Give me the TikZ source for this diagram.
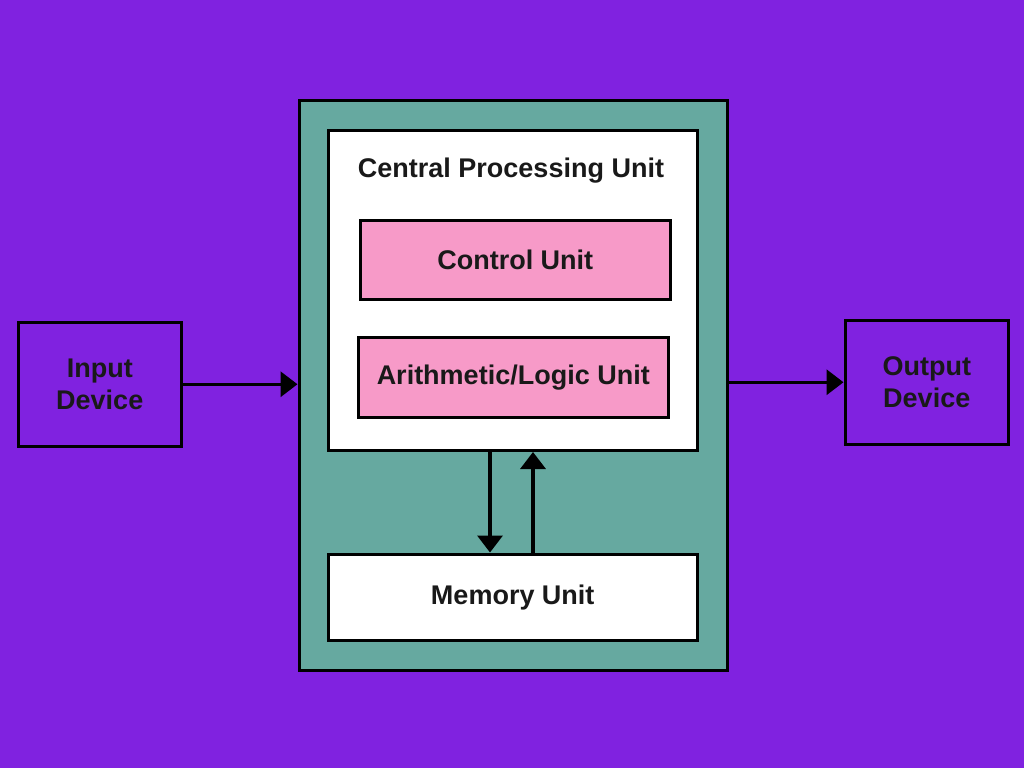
\documentclass[tikz,border=0pt]{standalone}
\usepackage{fontspec}
\setmainfont{Liberation Sans}
\usetikzlibrary{arrows.meta}
\definecolor{bgpurple}{RGB}{128,34,224}
\definecolor{tealc}{RGB}{102,169,160}
\definecolor{pinkc}{RGB}{247,154,200}
\definecolor{txt}{RGB}{25,25,25}
\tikzset{
  lbl/.style={font=\bfseries\fontsize{27}{32}\selectfont, text=txt},
  box/.style={draw=black, line width=3.5pt, inner sep=0pt, lbl, align=center},
  conn/.style={line width=3.5pt, -{Triangle[length=17pt,width=25pt]}}
}
\begin{document}
\begin{tikzpicture}[x=1pt,y=-1pt]
\fill[bgpurple] (0,0) rectangle (1024,768);
\useasboundingbox (0,0) rectangle (1024,768);
% outer teal
\node[box, fill=tealc, minimum width=428pt, minimum height=570pt, anchor=north west] (outer) at (297.5,98.5) {};
% cpu
\node[box, fill=white, minimum width=369pt, minimum height=320pt, anchor=north west] (cpu) at (326.5,128.5) {};
\node[lbl] (cputitle) at (511,171) {Central Processing Unit};
\node[box, fill=pinkc, minimum width=310pt, minimum height=79pt, anchor=north west] (cu) at (358.5,218.5) {Control Unit};
\node[box, fill=pinkc, minimum width=310pt, minimum height=80pt, anchor=north west] (alu) at (356.5,335.5) {Arithmetic/Logic Unit};
\node[box, fill=white, minimum width=369pt, minimum height=86pt, anchor=north west] (mem) at (326.5,552.5) {Memory Unit};
% devices
\node[box, fill=bgpurple, minimum width=163pt, minimum height=124pt, anchor=north west] (in) at (16.5,320.5) {Input\\Device};
\node[box, fill=bgpurple, minimum width=163pt, minimum height=124pt, anchor=north west] (out) at (843.5,318.5) {Output\\Device};
% connectors
\draw[conn] (in.east) -- (outer.west |- in.east);
\draw[conn] (outer.east |- out.west) -- (out.west);
\draw[conn] (cpu.south -| 490,0) -- (mem.north -| 490,0);
\draw[conn] (mem.north -| 533,0) -- (cpu.south -| 533,0);
\end{tikzpicture}
\end{document}
